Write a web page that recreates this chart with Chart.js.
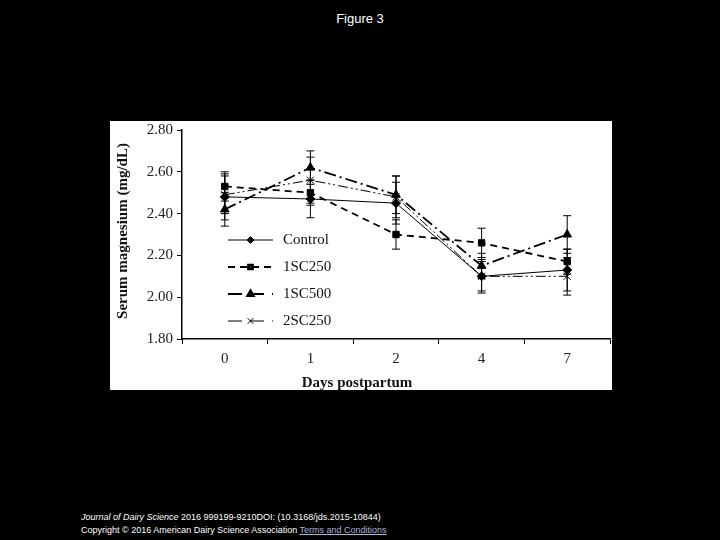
<!DOCTYPE html>
<html lang="en">
<head>
  <meta charset="UTF-8">
  <title>Figure 3</title>
  <style>
    body {
      margin: 0;
      width: 720px;
      height: 540px;
      background: #000;
      position: relative;
      overflow: hidden;
      font-family: "Liberation Sans", Arial, sans-serif;
    }
    #title {
      position: absolute;
      top: 11px;
      width: 720px;
      text-align: center;
      color: #fff;
      font-size: 13px;
    }
    #chartBox {
      position: absolute;
      left: 110px;
      top: 121px;
      width: 502px;
      height: 269px;
      background: #fff;
      overflow: hidden;
    }
    #chart {
      position: absolute;
      left: 0;
      top: -4px;
    }
    #footer {
      position: absolute;
      left: 81px;
      top: 511px;
      color: #fff;
      font-size: 9px;
      line-height: 13px;
    }
    #footer a {
      color: #aab4d8;
    }
  </style>
</head>
<body>
  <div id="title">Figure 3</div>
  <div id="chartBox"><canvas id="chart" width="506" height="273"></canvas></div>
  <div id="footer">
    <i>Journal of Dairy Science</i> 2016 999199-9210DOI: (10.3168/jds.2015-10844)<br>
    Copyright © 2016 American Dairy Science Association <a href="#">Terms and Conditions</a>
  </div>

  <script src="https://cdn.jsdelivr.net/npm/chart.js"></script>
  <script>
    // days postpartum
    const days = ['0', '1', '2', '4', '7'];
    const yTicks = [1.8, 2.0, 2.2, 2.4, 2.6, 2.8];

    // serum Mg (mg/dL)
    const control = [2.48, 2.47, 2.45, 2.10, 2.13];
    const sc250 = [2.53, 2.50, 2.30, 2.26, 2.17];
    const sc500 = [2.42, 2.62, 2.49, 2.15, 2.30];
    const twoSc250 = [2.49, 2.56, 2.48, 2.10, 2.10];

    // error bar half-lengths
    const controlErr = [0.11, 0.09, 0.10, 0.08, 0.10];
    const sc250Err = [0.07, 0.06, 0.07, 0.07, 0.06];
    const sc500Err = [0.08, 0.08, 0.09, 0.06, 0.09];
    const twoSc250Err = [0.09, 0.11, 0.10, 0.07, 0.09];

    const serif = '"Liberation Serif", "Times New Roman", serif';

    const series = [
      { label: 'Control', data: control, err: controlErr, dash: [], width: 1, style: 'rectRot', radius: 4.5 },
      { label: '1SC250', data: sc250, err: sc250Err, dash: [7, 5], width: 1.8, style: 'rect', radius: 4.5 },
      { label: '1SC500', data: sc500, err: sc500Err, dash: [12, 4, 2, 4], width: 1.8, style: 'triangle', radius: 5 },
      { label: '2SC250', data: twoSc250, err: twoSc250Err, dash: [10, 3, 2, 3, 2, 3], width: 1, style: 'crossRot', radius: 5 }
    ];

    const extras = {
      id: 'extras',
      afterDatasetsDraw(chart) {
        const ctx = chart.ctx;
        const x = chart.scales.x, y = chart.scales.y;
        ctx.save();
        ctx.strokeStyle = '#000';
        ctx.lineWidth = 1;
        ctx.setLineDash([]);
        series.forEach(s => {
          s.data.forEach((v, i) => {
            const px = x.getPixelForValue(i);
            const top = y.getPixelForValue(v + s.err[i]);
            const bot = y.getPixelForValue(v - s.err[i]);
            ctx.beginPath();
            ctx.moveTo(px, top); ctx.lineTo(px, bot);
            ctx.moveTo(px - 4, top); ctx.lineTo(px + 4, top);
            ctx.moveTo(px - 4, bot); ctx.lineTo(px + 4, bot);
            ctx.stroke();
          });
        });

        // legend inside plot
        const area = chart.chartArea;
        ctx.font = '15px ' + serif;
        ctx.fillStyle = '#111';
        ctx.textBaseline = 'middle';
        series.forEach((s, i) => {
          const ly = area.top + 110 + i * 27;
          const x0 = area.left + 46, x1 = area.left + 91;
          ctx.beginPath();
          ctx.lineWidth = s.width;
          ctx.setLineDash(s.dash.length ? [7, 5] : []);
          if (i === 2 || i === 3) ctx.setLineDash([14, 8]);
          ctx.moveTo(x0, ly); ctx.lineTo(x1, ly);
          ctx.stroke();
          ctx.setLineDash([]);
          Chart.helpers.drawPoint(ctx, { pointStyle: s.style, radius: s.radius - 1, borderWidth: 1 }, (x0 + x1) / 2, ly);
          ctx.fillStyle = '#111';
          ctx.fillText(s.label, x1 + 10, ly);
        });

        // axis titles
        ctx.font = 'bold 15px ' + serif;
        ctx.textAlign = 'center';
        ctx.fillText('Days postpartum', area.left + 175, area.bottom + 44);
        ctx.translate(13, area.top + 101);
        ctx.rotate(-Math.PI / 2);
        ctx.fillText('Serum magnesium (mg/dL)', 0, 0);
        ctx.restore();
      }
    };

    new Chart(document.getElementById('chart'), {
      type: 'line',
      data: {
        labels: days,
        datasets: series.map(s => ({
          label: s.label,
          data: s.data,
          borderColor: '#000',
          backgroundColor: '#000',
          borderWidth: s.width,
          borderDash: s.dash,
          pointStyle: s.style,
          pointRadius: s.radius,
          pointBorderColor: '#000',
          pointBackgroundColor: '#000',
          pointBorderWidth: 1,
          tension: 0
        }))
      },
      options: {
        responsive: false,
        animation: false,
        layout: { padding: { top: 4, right: 0, left: 0, bottom: 0 } },
        plugins: { legend: { display: false }, tooltip: { enabled: false } },
        scales: {
          x: {
            offset: true,
            grid: { offset: true, drawOnChartArea: false, color: '#000', tickLength: 5, tickColor: '#000' },
            border: { color: '#000', width: 1.5 },
            ticks: { color: '#222', font: { family: serif, size: 15 }, padding: 6 },
            afterFit(scale) { scale.height = 51; }
          },
          y: {
            min: 1.8,
            max: 2.8,
            afterBuildTicks(scale) { scale.ticks = yTicks.map(v => ({ value: v })); },
            grid: { drawOnChartArea: false, color: '#000', tickLength: 5, tickColor: '#000' },
            border: { color: '#000', width: 1.5 },
            ticks: {
              color: '#222',
              font: { family: serif, size: 15 },
              padding: 4,
              callback: v => v.toFixed(2)
            },
            afterFit(scale) { scale.width = 72; }
          }
        }
      },
      plugins: [extras]
    });
  </script>
</body>
</html>
